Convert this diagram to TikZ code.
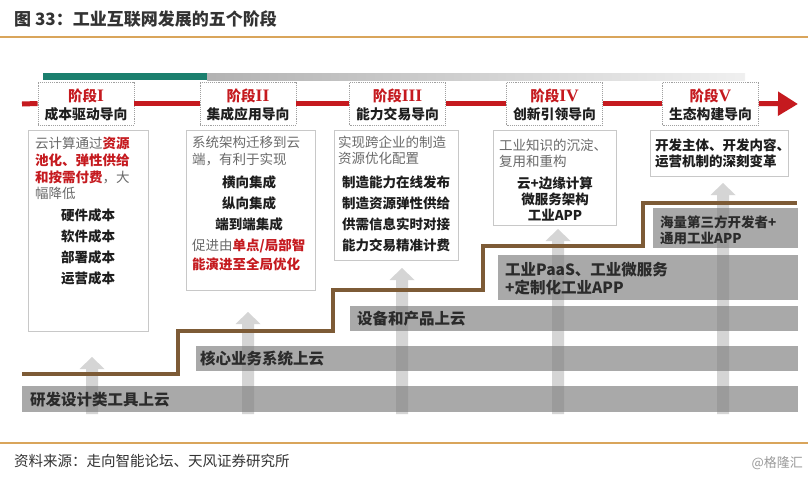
\documentclass[tikz,border=0pt]{standalone}
\usepackage{fontspec}
\setmainfont{Noto Sans CJK SC}
\newfontfamily\romfont{Liberation Serif}
\usetikzlibrary{arrows.meta}
\definecolor{ttl}{HTML}{333333}
\definecolor{rule}{HTML}{D9A55B}
\definecolor{teal1}{HTML}{1B7F6E}
\definecolor{hred}{HTML}{C51A1F}
\definecolor{hdrgray}{HTML}{A0A0A0}
\definecolor{boxgray}{HTML}{C8C8C8}
\definecolor{bargray}{HTML}{A9A9A9}
\definecolor{bartext}{HTML}{2B2B2B}
\definecolor{gtext}{HTML}{6A6A6A}
\definecolor{btext}{HTML}{1E1E1E}
\definecolor{brown1}{HTML}{7D5B36}
\definecolor{arrgray}{HTML}{808080}
\definecolor{wm}{HTML}{9A9A9A}
\newcommand{\myuparr}[3]{%
  \fill[arrgray,opacity=0.33] (#1-6,#3) -- (#1-6,#2+12) -- (#1-12.5,#2+12) -- (#1,#2)
    -- (#1+12.5,#2+12) -- (#1+6,#2+12) -- (#1+6,#3) -- cycle;}
\newcommand{\rn}[1]{{\romfont\fontsize{17.5}{17.5}\selectfont #1}}
\begin{document}
\begin{tikzpicture}[x=1pt,y=-1pt,
  hdr/.style={draw=hdrgray, densely dotted, line width=0.9pt, fill=white,
    minimum width=96pt, minimum height=43pt, inner sep=0},
  hdtop/.style={inner sep=0, text=hred, font=\bfseries\fontsize{14.5}{14.5}\selectfont},
  hdsub/.style={inner sep=0, text=btext, font=\bfseries\fontsize{13.8}{14}\selectfont},
  cbox/.style={draw=boxgray, line width=0.9pt, fill=white, inner sep=0},
  gt/.style={anchor=west, inner sep=0, text=gtext, font=\fontsize{13.5}{14}\selectfont},
  bt/.style={inner sep=0, text=btext, font=\bfseries\fontsize{13.5}{14}\selectfont},
  rt/.style={anchor=west, inner sep=0, text=hred, font=\bfseries\fontsize{13.5}{14}\selectfont},
  bar/.style={fill=bargray, inner sep=0, outer sep=0, anchor=north west},
  bartxt/.style={anchor=west, inner sep=0, text=bartext, font=\bfseries\fontsize{15.5}{16}\selectfont},
  bartxs/.style={anchor=west, inner sep=0, text=bartext, font=\bfseries\fontsize{13.5}{14}\selectfont},
  redline/.style={draw=hred, line width=5pt},
  stair/.style={draw=brown1, line width=4pt, line join=miter},
  stairsh/.style={draw=black!22, line width=4pt, line join=miter}
]
\useasboundingbox (0,0) rectangle (808,479);
\fill[white] (0,0) rectangle (808,479);

% title and rules
\node[anchor=west, inner sep=0, text=ttl, font=\bfseries\fontsize{17}{17}\selectfont] (title) at (14,19) {图 33：工业互联网发展的五个阶段};
\coordinate (r1a) at (0,37); \coordinate (r1b) at (808,37);
\draw[rule, line width=1.2pt] (r1a) -- (r1b);
\coordinate (r2a) at (0,443); \coordinate (r2b) at (808,443);
\draw[rule, line width=1.2pt] (r2a) -- (r2b);
\node[anchor=west, inner sep=0, text=ttl, font=\fontsize{14.5}{15}\selectfont] (src) at (14,461) {资料来源：走向智能论坛、天风证券研究所};
\node[anchor=east, inner sep=0, text=wm, font=\fontsize{13}{13}\selectfont] (wmk) at (803,463) {@格隆汇};

% progress bar
\fill[teal1] (43,73) rectangle (207,80);
\shade[left color=black!30, right color=black!6] (207,73) rectangle (745,80);

% layer bars
\node[bar, minimum width=776pt, minimum height=26pt] (b1) at (22,386) {};
\node[bar, minimum width=602pt, minimum height=25pt] (b2) at (196,346) {};
\node[bar, minimum width=448pt, minimum height=25.5pt] (b3) at (350,305.5) {};
\node[bar, minimum width=300pt, minimum height=45pt] (b4) at (498,255) {};
\node[bar, minimum width=145pt, minimum height=40pt] (b5) at (653,208) {};

% vertical arrows
\myuparr{92}{357}{414}
\myuparr{248}{312}{414}
\myuparr{402}{268}{414}
\myuparr{558}{229}{414}
\myuparr{723}{183}{414}

% bar texts
\node[bartxt] (b1t) at (30,399.5) {研发设计类工具上云};
\node[bartxt] (b2t) at (200,359) {核心业务系统上云};
\node[bartxt] (b3t) at (357,318.5) {设备和产品上云};
\node[bartxt] (b4t) at (505,270) {工业PaaS、工业微服务};
\node[bartxt] (b4u) at (505,288) {+定制化工业APP};
\node[bartxs] (b5t) at (660,222) {海量第三方开发者+};
\node[bartxs] (b5u) at (660,238) {通用工业APP};

% staircase
\coordinate (s0) at (22,374); \coordinate (s1) at (178,374);
\coordinate (s2) at (178,331); \coordinate (s3) at (333,331);
\coordinate (s4) at (333,290); \coordinate (s5) at (483,290);
\coordinate (s6) at (483,246); \coordinate (s7) at (643,246);
\coordinate (s8) at (643,203); \coordinate (s9) at (797,203);
\draw[stairsh, shift={(1.5pt,-1.5pt)}] (s0) -- (s1) -- (s2) -- (s3) -- (s4) -- (s5) -- (s6) -- (s7) -- (s8) -- (s9);
\draw[stair] (s0) -- (s1) -- (s2) -- (s3) -- (s4) -- (s5) -- (s6) -- (s7) -- (s8) -- (s9);

% content boxes
\node[cbox, minimum width=120pt, minimum height=201pt] (c1) at (88,230.5) {};
\node[cbox, minimum width=129pt, minimum height=160pt] (c2) at (250.5,210) {};
\node[cbox, minimum width=124pt, minimum height=130pt] (c3) at (396,195) {};
\node[cbox, minimum width=123pt, minimum height=95pt] (c4) at (554.5,177.5) {};
\node[cbox, minimum width=138pt, minimum height=46pt] (c5) at (719,153) {};

% box 1
\node[gt] (c1a) at (35,143) {云计算通过\textcolor{hred}{\bfseries 资源}};
\node[rt] (c1b) at (35,160) {池化、弹性供给};
\node[rt] (c1c) at (35,177) {和按需付费\textcolor{gtext}{\mdseries ，大}};
\node[gt] (c1d) at (35,193) {幅降低};
\node[bt] (c1e) at (88,215) {硬件成本};
\node[bt] (c1f) at (88,236) {软件成本};
\node[bt] (c1g) at (88,257) {部署成本};
\node[bt] (c1h) at (88,278) {运营成本};

% box 2
\node[gt] (c2a) at (192,142) {系统架构迁移到云};
\node[gt] (c2b) at (192,160) {端，有利于实现};
\node[bt] (c2c) at (249,182) {横向集成};
\node[bt] (c2d) at (249,203) {纵向集成};
\node[bt] (c2e) at (249,224) {端到端集成};
\node[gt] (c2f) at (192,246) {促进由\textcolor{hred}{\bfseries 单点/局部智}};
\node[rt] (c2g) at (192,264) {能演进至全局优化};

% box 3
\node[gt] (c3a) at (338,142) {实现跨企业的制造};
\node[gt] (c3b) at (338,158) {资源优化配置};
\node[bt] (c3c) at (396,182) {制造能力在线发布};
\node[bt] (c3d) at (396,203) {制造资源弹性供给};
\node[bt] (c3e) at (396,224) {供需信息实时对接};
\node[bt] (c3f) at (396,245) {能力交易精准计费};

% box 4
\node[gt] (c4a) at (499,145) {工业知识的沉淀、};
\node[gt] (c4b) at (499,161) {复用和重构};
\node[bt] (c4c) at (555,183) {云+边缘计算};
\node[bt] (c4d) at (555,199) {微服务架构};
\node[bt] (c4e) at (555,215) {工业APP};

% box 5
\node[bt, anchor=west] (c5a) at (655,145) {开发主体、开发内容、};
\node[bt, anchor=west] (c5b) at (655,161) {运营机制的深刻变革};

% header boxes
\node[hdr] (h1) at (86,103.5) {};
\node[hdr] (h2) at (248,103.5) {};
\node[hdr] (h3) at (397.5,103.5) {};
\node[hdr] (h4) at (554.5,103.5) {};
\node[hdr] (h5) at (710.5,103.5) {};
\node[hdtop] (h1t) at (86,95.5) {阶段\rn{I}};
\node[hdsub] (h1s) at (86,114) {成本驱动导向};
\node[hdtop] (h2t) at (248,95.5) {阶段\rn{II}};
\node[hdsub] (h2s) at (248,114) {集成应用导向};
\node[hdtop] (h3t) at (397.5,95.5) {阶段\rn{III}};
\node[hdsub] (h3s) at (397.5,114) {能力交易导向};
\node[hdtop] (h4t) at (554.5,95.5) {阶段\rn{IV}};
\node[hdsub] (h4s) at (554.5,114) {创新引领导向};
\node[hdtop] (h5t) at (710.5,95.5) {阶段\rn{V}};
\node[hdsub] (h5s) at (710.5,114) {生态构建导向};

% timeline
\coordinate (tl0) at (22,104);
\coordinate (tlend) at (798,104);
\draw[redline] (tl0) -- (h1.west);
\draw[redline] (h1.east) -- (h2.west);
\draw[redline] (h2.east) -- (h3.west);
\draw[redline] (h3.east) -- (h4.west);
\draw[redline] (h4.east) -- (h5.west);
\draw[redline, -{Triangle[length=20pt,width=23pt]}] (h5.east) -- (tlend);
\end{tikzpicture}
\end{document}
